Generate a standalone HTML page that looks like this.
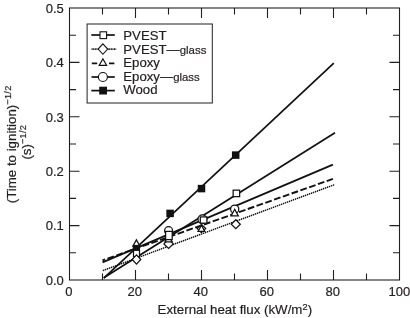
<!DOCTYPE html>
<html>
<head>
<meta charset="utf-8">
<title>Time to ignition vs external heat flux</title>
<style>
html,body{margin:0;padding:0;background:#fff;}
body{width:410px;height:318px;overflow:hidden;position:relative;}
svg{position:absolute;left:0;top:0;display:block;}
text{font-family:"Liberation Sans",Arial,Helvetica,sans-serif;fill:#231f20;stroke:#231f20;stroke-width:0.2px;}
.tk{font-size:13px;}
.ax{font-size:13.3px;}
.lg{font-size:13.2px;}
.sm{font-size:11.4px;}
.ds{font-size:13.2px;}
.sup{font-size:9.2px;letter-spacing:0.3px;}
</style>
</head>
<body>
<svg width="410" height="318" viewBox="0 0 410 318">
<rect x="0" y="0" width="410" height="318" fill="#ffffff"/>

<!-- axes frame -->
<g stroke="#231f20" stroke-width="1.1" fill="none" stroke-linecap="butt">
<rect x="69.5" y="8" width="330" height="272"/>
<!-- bottom ticks -->
<path d="M102.5 280v-6.5M135.5 280v-10M168.5 280v-6.5M201.5 280v-10M234.5 280v-6.5M267.5 280v-10M300.5 280v-6.5M333.5 280v-10M366.5 280v-6.5"/>
<!-- top ticks -->
<path d="M102.5 8v6.5M135.5 8v10M168.5 8v6.5M201.5 8v10M234.5 8v6.5M267.5 8v10M300.5 8v6.5M333.5 8v10M366.5 8v6.5"/>
<!-- left ticks -->
<path d="M69.5 252.8h6.5M69.5 225.6h10M69.5 198.4h6.5M69.5 171.2h10M69.5 144h6.5M69.5 116.8h10M69.5 89.6h6.5M69.5 62.4h10M69.5 35.2h6.5"/>
<!-- right ticks -->
<path d="M399.5 252.8h-6.5M399.5 225.6h-10M399.5 198.4h-6.5M399.5 171.2h-10M399.5 144h-6.5M399.5 116.8h-10M399.5 89.6h-6.5M399.5 62.4h-10M399.5 35.2h-6.5"/>
</g>

<!-- fit lines -->
<g stroke="#111" fill="none" stroke-linecap="butt">
<line x1="103.8" y1="277.8" x2="335" y2="132.7" stroke-width="1.7"/>
<line x1="103.5" y1="270.34" x2="334" y2="184.8" stroke-width="1.6" stroke-dasharray="0.05 2.0833" stroke-linecap="round"/>
<line x1="102.5" y1="260.4" x2="332.9" y2="178.9" stroke-width="1.9" stroke-dasharray="6.8 2.5" stroke-dashoffset="4"/>
<line x1="102.5" y1="262.4" x2="332.9" y2="164.6" stroke-width="1.7"/>
<line x1="103.8" y1="278.2" x2="333.8" y2="63.2" stroke-width="1.7"/>
</g>

<!-- markers -->
<g stroke="#111" stroke-width="1.25" fill="#fff" stroke-linejoin="miter">
<!-- flux 20 -->
<path d="M136.40 239.90L139.90 246.20H132.90z"/>
<rect x="132.8" y="244.9" width="7.2" height="5.5" fill="#111" stroke="none"/>
<rect x="133.50" y="250.30" width="6.00" height="6.40"/>
<path d="M136.50 254.90L140.80 259.50L136.50 264.10L132.20 259.50z"/>
<!-- flux 30 -->
<circle cx="168.60" cy="230.70" r="4.00"/>
<path d="M168.60 239.20L173.30 243.90L168.60 248.50L163.90 243.90z"/>
<path d="M168.60 235.60L172.20 241.90H165.00z"/>
<rect x="165.60" y="231.40" width="6.60" height="8.20"/>
<rect x="166.35" y="209.65" width="7.50" height="7.50" fill="#111" stroke="none"/>
<!-- flux 40 -->
<circle cx="202.40" cy="219.30" r="4.40"/>
<rect x="200.30" y="216.90" width="6.60" height="6.30"/>
<path d="M201.40 224.50L205.70 228.60L201.40 232.70L197.10 228.60z"/>
<path d="M201.40 225.20L204.80 231.40H198.00z"/>
<rect x="197.75" y="184.85" width="7.50" height="7.50" fill="#111" stroke="none"/>
<!-- flux 50 -->
<circle cx="234.70" cy="209.20" r="4.10"/>
<path d="M234.70 209.30L238.30 215.90H231.10z"/>
<rect x="233.15" y="190.15" width="6.50" height="6.50"/>
<path d="M235.80 219.70L240.30 224.20L235.80 228.70L231.30 224.20z"/>
<rect x="231.95" y="151.35" width="7.50" height="7.50" fill="#111" stroke="none"/>
</g>

<!-- legend -->
<rect x="87.1" y="24" width="125.2" height="79" fill="#fff" stroke="#231f20" stroke-width="1"/>
<g stroke="#111" fill="none">
<line x1="91.3" y1="35" x2="114.8" y2="35" stroke-width="1.7"/>
<line x1="91.6" y1="49.1" x2="116.2" y2="49.1" stroke-width="1.7" stroke-dasharray="1.05 0.55"/>
<line x1="91.8" y1="63.3" x2="114.8" y2="63.3" stroke-width="1.8" stroke-dasharray="5.4 11.8"/>
<line x1="91.5" y1="77" x2="114.8" y2="77" stroke-width="1.7"/>
<line x1="91.3" y1="90.6" x2="114.8" y2="90.6" stroke-width="1.7"/>
</g>
<g stroke="#111" stroke-width="1.1" fill="#fff">
<rect x="100" y="31.8" width="6.6" height="6.8"/>
<path d="M102.9 43.9l4.8 5.2l-4.8 5.2l-4.8-5.2z"/>
<path d="M102.9 58.9l3.8 6.5h-7.6z"/>
<circle cx="102.9" cy="77" r="4.5"/>
</g>
<rect x="99.2" y="86.7" width="7.8" height="7.8" fill="#111"/>

<g class="lg">
<text x="123.3" y="39.8">PVEST</text>
<text x="123.3" y="53.5">PVEST<tspan class="ds">—</tspan><tspan class="sm">glass</tspan></text>
<text x="123.3" y="67.2">Epoxy</text>
<text x="123.3" y="80.8">Epoxy<tspan class="ds">—</tspan><tspan class="sm">glass</tspan></text>
<text x="123.3" y="94.4">Wood</text>
</g>

<!-- y tick labels -->
<g class="tk" text-anchor="end">
<text x="63.8" y="284.8">0.0</text>
<text x="63.8" y="230.4">0.1</text>
<text x="63.8" y="176.0">0.2</text>
<text x="63.8" y="121.6">0.3</text>
<text x="63.8" y="67.2">0.4</text>
<text x="63.8" y="12.8">0.5</text>
</g>
<!-- x tick labels -->
<g class="tk" text-anchor="middle">
<text x="68.8" y="295.6">0</text>
<text x="134.8" y="295.6">20</text>
<text x="200.8" y="295.6">40</text>
<text x="266.8" y="295.6">60</text>
<text x="332.8" y="295.6">80</text>
<text x="399.3" y="295.6">100</text>
</g>

<!-- x axis label -->
<text class="ax" x="157.6" y="314.4">External heat flux (kW/m<tspan class="sup" dy="-4.5">2</tspan><tspan dy="4.5">)</tspan></text>

<!-- y axis label -->
<text class="ax" transform="translate(15.9,203.3) rotate(-90)">(Time to ignition)<tspan class="sup" dy="-5.4">−1/2</tspan></text>
<text class="ax" transform="translate(30.9,159.6) rotate(-90)">(s)<tspan class="sup" dy="-5.4">−1/2</tspan></text>
</svg>
</body>
</html>
